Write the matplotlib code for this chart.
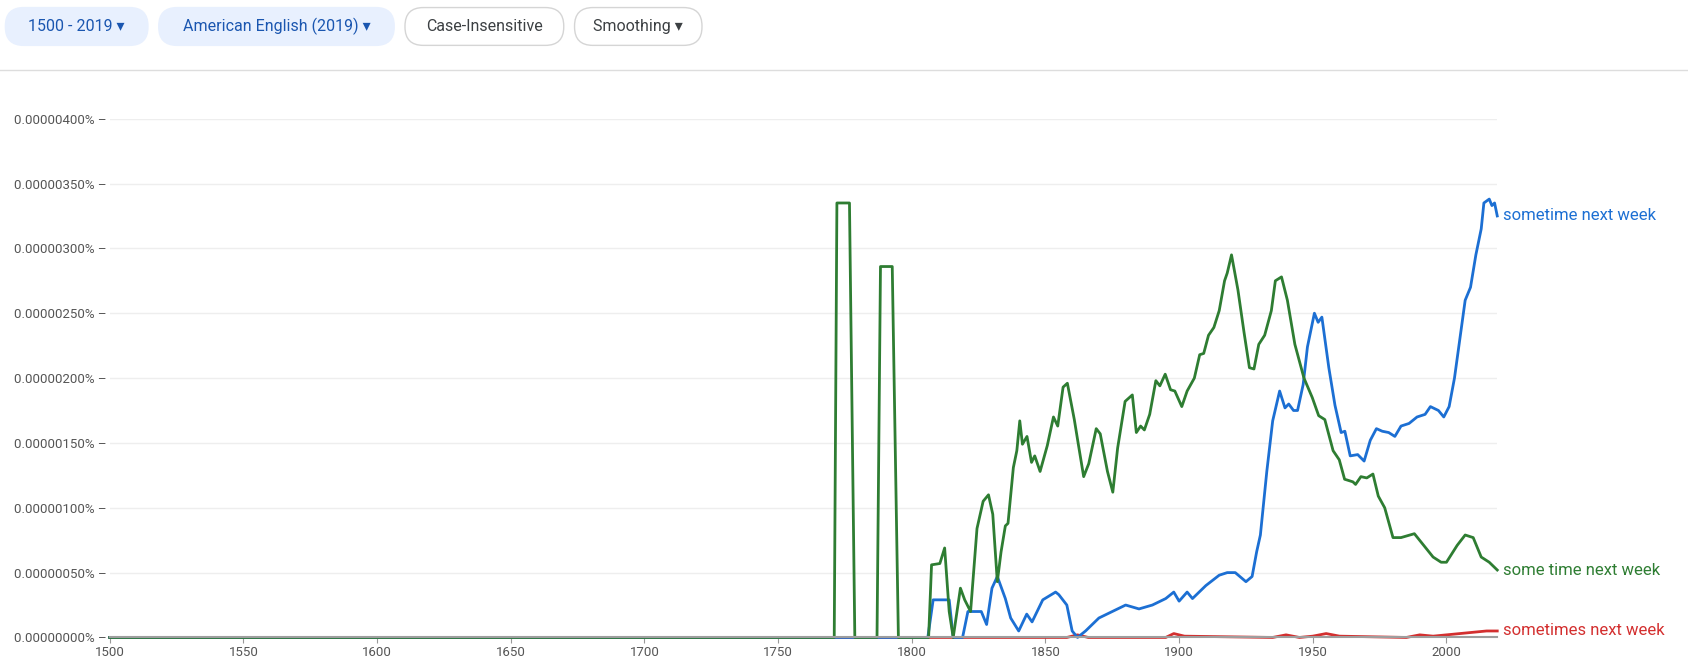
import matplotlib
matplotlib.use("Agg")
import matplotlib.pyplot as plt
from matplotlib.patches import FancyBboxPatch
import numpy as np

# values in units of 1e-8 % (so 400 -> 0.00000400%)
green_years = [1500, 1771, 1772, 1776.7, 1778.7, 1787, 1788.3, 1792.7, 1795, 1806.3, 1807.4, 1810.5, 1812.3, 1814,
               1815.5, 1818.2, 1819.8, 1822, 1824.4, 1826.7, 1828.7, 1830.3, 1832, 1833.4, 1835, 1836, 1838, 1839.3,
               1840.4, 1841.4, 1843.1, 1844.8, 1846, 1848, 1850.7, 1853, 1854.6, 1856.6, 1858.2, 1860.8, 1862.3,
               1864.3, 1866.2, 1869, 1870.5, 1873.2, 1875.2, 1877, 1879.8, 1882.5, 1884, 1885.6, 1887, 1889, 1891.3,
               1892.8, 1894.8, 1896.8, 1898.4, 1901, 1903, 1905.7, 1907.7, 1909.2, 1911, 1913, 1915, 1917, 1918,
               1919.6, 1922, 1924.3, 1926.3, 1928, 1929.8, 1932, 1934.5, 1936, 1938.3, 1940.5, 1943.3, 1946.7,
               1949.8, 1952.2, 1954.5, 1957.6, 1959.9, 1961.9, 1965, 1966, 1968, 1970.2, 1972.5, 1974.5, 1976.9,
               1980, 1983, 1988, 1995, 1998, 2000, 2004, 2007, 2010, 2013, 2016, 2019]
green_vals = [0, 0, 335, 335, 0, 0, 286, 286, 0, 0, 56, 57, 69, 20,
              0, 38, 29, 20, 84, 105, 110, 95, 43, 66, 86, 88, 131, 144,
              167, 149, 155, 135, 140, 128, 148, 170, 163, 193, 196, 168, 149,
              124, 134, 161, 157, 128, 112, 146, 182, 187, 158, 163, 160, 172, 198,
              194, 203, 191, 190, 178, 190, 200, 218, 219, 233, 239, 252, 275, 281,
              295, 268, 235, 208, 207, 226, 233, 252, 275, 278, 260, 226, 200,
              185, 171, 168, 144, 137, 122, 120, 118, 124, 123, 126, 109, 100,
              77, 77, 80, 62, 58, 58, 71, 79, 77, 62, 58, 52]

blue_years = [1500, 1806, 1808, 1814, 1815.5, 1819, 1821, 1826, 1828, 1830, 1832, 1835, 1837, 1840, 1843, 1845, 1849,
              1853.8, 1855, 1858, 1860, 1862, 1865, 1870, 1875, 1880, 1885, 1890, 1895, 1898, 1900, 1903, 1905,
              1910, 1915, 1918, 1921, 1925, 1927.3, 1929, 1930.4, 1932.8, 1935, 1937.6, 1939.6, 1941, 1942.8,
              1944.3, 1946.4, 1948, 1950.6, 1952, 1953.4, 1956, 1958.3, 1960.6, 1962, 1964, 1966.8, 1969.2, 1971.5,
              1973.8, 1976, 1978.4, 1980.7, 1983, 1986, 1989, 1992, 1994, 1997, 1999, 2001, 2003, 2005, 2007, 2009,
              2011, 2013, 2014, 2016, 2017, 2018, 2019]
blue_vals = [0, 0, 29, 29, 0, 0, 20, 20, 10, 38, 47, 30, 15, 5, 18, 12, 29,
             35, 33, 25, 5, 0, 5, 15, 20, 25, 22, 25, 30, 35, 28, 35, 30,
             40, 48, 50, 50, 43, 47, 66, 79, 128, 167, 190, 177, 180, 175,
             175, 195, 224, 250, 243, 247, 208, 179, 158, 159, 140, 141, 136, 152,
             161, 159, 158, 155, 163, 165, 170, 172, 178, 175, 170, 178, 200, 230, 260, 270,
             295, 315, 335, 338, 333, 335, 325]

red_years = [1500, 1858, 1862, 1866, 1895, 1898, 1902, 1935, 1940, 1945, 1950, 1955, 1960, 1985, 1990, 1995, 2005, 2015, 2019]
red_vals = [0, 0, 2, 0, 0, 3, 1, 0, 2, 0, 1, 3, 1, 0, 2, 1, 3, 5, 5]

series = [("sometimes next week", red_years, red_vals, "#d32f2f"),
          ("sometime next week", blue_years, blue_vals, "#1c6fd3"),
          ("some time next week", green_years, green_vals, "#2e7d32")]
yticks = [0, 50, 100, 150, 200, 250, 300, 350, 400]
xticks = list(range(1500, 2001, 50))

plt.rcParams["font.family"] = ["Roboto", "DejaVu Sans"]
fig = plt.figure(figsize=(16.88, 6.72), dpi=100)
ax = fig.add_axes([0.065, 0.0514, 0.822, 0.772])

for name, xs, ys, color in series:
    ax.plot(xs, ys, color=color, lw=2.0, solid_joinstyle="round", clip_on=False)
    ax.text(2021, ys[-1], name, color=color, fontsize=12, va="center", ha="left")

ax.set_xlim(1500, 2019)
ax.set_ylim(0, 400)
ax.set_yticks(yticks)
ax.set_yticklabels([f"{v / 1e8:.8f}% \u2013" for v in yticks], color="#555555", fontsize=9.5)
ax.set_xticks(xticks)
ax.set_xticklabels([str(x) for x in xticks], color="#555555", fontsize=9.5)
ax.tick_params(axis="y", length=0, pad=2)
ax.tick_params(axis="x", length=4, color="#999999", pad=2)
ax.grid(axis="y", color="#eeeeee", lw=1)
for s in ["top", "right", "left"]:
    ax.spines[s].set_visible(False)
ax.spines["bottom"].set_color("#9e9e9e")
ax.spines["bottom"].set_linewidth(1.5)
ax.set_axisbelow(True)

# header controls, drawn in a pixel-like overlay
W, H = 1563.0, 622.0
hdr = fig.add_axes([0, 0, 1, 1], zorder=-1)
hdr.set_xlim(0, W)
hdr.set_ylim(H, 0)
hdr.axis("off")
hdr.plot([0, W], [65, 65], color="#dddddd", lw=1)
buttons = [("1500 - 2019 \u25be", 5, 137, True), ("American English (2019) \u25be", 147, 365, True),
           ("Case-Insensitive", 375, 522, False), ("Smoothing \u25be", 532, 650, False)]
for label, x0, x1, filled in buttons:
    box = FancyBboxPatch((x0, 7), x1 - x0, 35, boxstyle="round,pad=0,rounding_size=17",
                         facecolor="#e8f0fe" if filled else "white",
                         edgecolor="#e8f0fe" if filled else "#d5d5d5", lw=1)
    hdr.add_patch(box)
    hdr.text((x0 + x1) / 2, 24.5, label, ha="center", va="center", fontsize=11.5,
             color="#1a56b0" if filled else "#3c4043")

fig.savefig("out.png", dpi=100)
